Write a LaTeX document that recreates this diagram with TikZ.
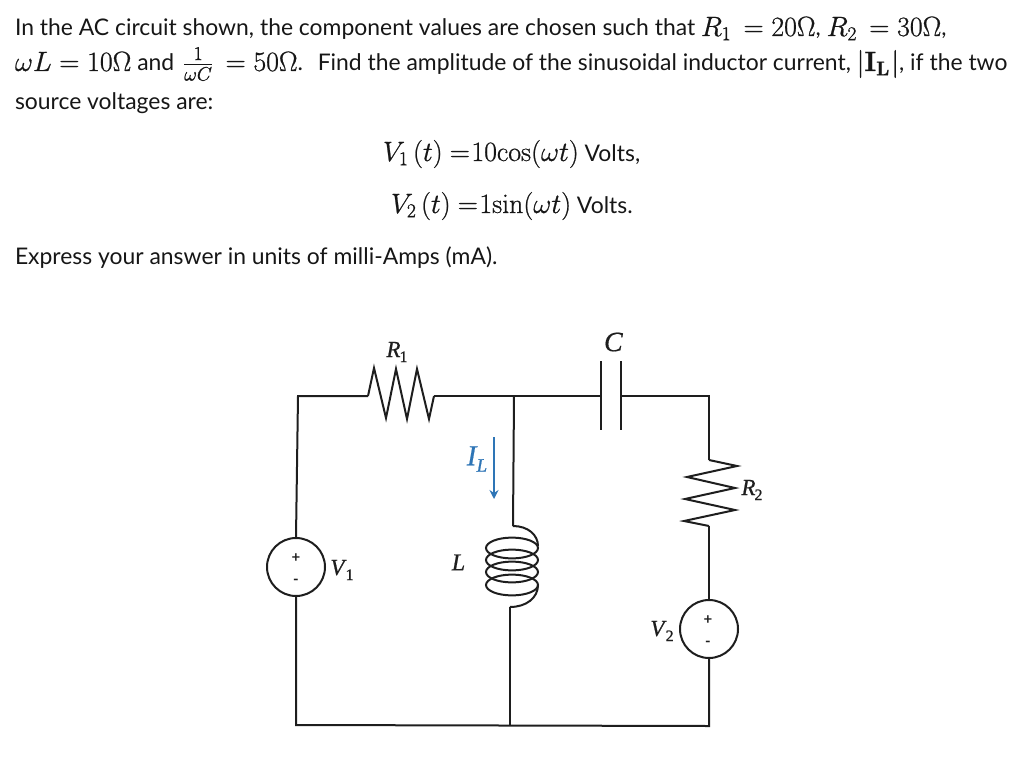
\documentclass[tikz,border=0pt]{standalone}
\usepackage{fix-cm}
\usepackage[no-math]{fontspec}
\setmainfont{Lato}
\newfontfamily\lblfont{Liberation Serif}
\usetikzlibrary{arrows.meta}
\definecolor{ilblue}{RGB}{46,117,182}
\definecolor{wirecol}{RGB}{30,30,30}
\definecolor{txt}{RGB}{22,22,22}
% maths set at KaTeX's larger size, with a hair of outline for its weight
\newcommand{\MM}[1]{{\fontsize{27.9}{30}\selectfont\special{pdf:code 2 Tr 0.22 w}\(#1\)\special{pdf:code 0 Tr}}}
% label: size, italic letter, subscript size, subscript
\newcommand{\LB}[4]{{\lblfont\special{pdf:code 2 Tr 0.15 w}\fontsize{#1}{24}\selectfont\textit{#2}\kern-1pt\raisebox{-0.22em}{\fontsize{#3}{16}\selectfont #4}\special{pdf:code 0 Tr}}}
\tikzset{
  para/.style={anchor=base west,inner sep=0pt,outer sep=0pt,text=txt,font=\fontsize{22.9}{26}\selectfont},
  lbl/.style={inner sep=0pt,text=wirecol},
  wire/.style={draw=wirecol,line width=2pt,line join=miter},
  src/.style={circle,draw=wirecol,line width=2pt,minimum size=58pt,inner sep=0pt},
  sgn/.style={inner sep=0pt,text=wirecol,font=\fontsize{15}{16}\bfseries\selectfont}
}
\begin{document}
\begin{tikzpicture}[x=1pt,y=-1pt]
\useasboundingbox (0,0) rectangle (1024,762);
% text
\node[para] (t1) at (15,36) {In the AC circuit shown, the component values are chosen such that \MM{R_1\,=20\Omega}, \MM{R_2\,=30\Omega},};
\node[para] (t2) at (15,71) {\MM{\omega L=10\Omega} and\hspace{3pt} \MM{\frac{1}{\omega C}\mskip3mu=50\Omega}.\ \ \hspace{3pt}Find the amplitude of the sinusoidal inductor current, \MM{|\mathbf{I_L}\mskip1mu|}, if the two};
\node[para] (t3) at (15,110) {source voltages are:};
\node[para] (e1) at (383,161) {\MM{V_1\,(t)\ {=}\mskip1mu 10\mathrm{cos}(\omega t)} Volts,};
\node[para] (e2) at (391,213) {\MM{V_2\,(t)\ {=}\mskip1mu 1\mathrm{sin}(\omega t)} Volts.};
\node[para] (t4) at (15,264) {Express your answer in units of milli-Amps (mA).};
% named points
\coordinate (tl) at (298,396);
\coordinate (r1a) at (368,396);
\coordinate (r1b) at (434,396);
\coordinate (j) at (514,396);
\coordinate (cl) at (601,396);
\coordinate (cr) at (621,396);
\coordinate (tr) at (709,396);
\coordinate (r2a) at (709,460);
\coordinate (r2b) at (709,526);
\coordinate (la) at (513,526);
\coordinate (lb) at (510,607);
\coordinate (jb) at (510,725);
\coordinate (bl) at (296,725);
\coordinate (br) at (709,726);
\node[src] (v1) at (296,567) {};
\node[src] (v2) at (709,629) {};
% wires
\draw[wire] (v1.north) -- (tl) -- (r1a);
\draw[wire] (r1a) -- (374,368) -- (386,418) -- (396,369) -- (407,419) -- (417,369) -- (429,419) -- (r1b);
\draw[wire] (r1b) -- (j) -- (cl);
\draw[wire] (601,361) -- (601,430);
\draw[wire] (621,361) -- (621,430);
\draw[wire] (cr) -- (tr) -- (r2a);
\draw[wire] (r2a) -- (737,466) -- (687,477) -- (735,488) -- (685,499) -- (735,510) -- (684,521) -- (r2b);
\draw[wire] (r2b) -- (v2.north);
\draw[wire] (v2.south) -- (br) -- (bl) -- (v1.south);
\draw[wire] (j) -- (la);
\draw[wire] (lb) -- (jb);
% inductor
\draw[wire] (la) .. controls (528,526) and (538,535) .. (538,546);
\draw[wire] (538,585) .. controls (538,598) and (526,607) .. (lb);
\foreach \yy in {548,560,572,585}{\draw[wire] (512,\yy) ellipse [x radius=26,y radius=10.4];}
% current arrow
\coordinate (ia) at (494,437);
\coordinate (ib) at (494,499);
\draw[draw=ilblue,line width=2pt,-{Stealth[length=9pt,width=9pt]}] (ia) -- (ib);
% labels
\node[lbl,text=ilblue] (il) at (477,459) {\LB{29}{I}{19}{\textit{L}}};
\node[lbl] (ll) at (458,565) {\LB{24}{L}{15}{}};
\node[lbl] (lv1) at (342,570) {\LB{23}{V}{16}{1}};
\node[lbl] (lr1) at (397,352) {\LB{23}{R}{16}{1}};
\node[lbl] (lc) at (613,345) {\LB{28}{C}{15}{}};
\node[lbl] (lr2) at (752,490) {\LB{23}{R}{16}{2}};
\node[lbl] (lv2) at (662,631) {\LB{23}{V}{16}{2}};
\node[sgn] (p1) at (296,558) {+};
\node[sgn] (m1) at (296,582) {-};
\node[sgn] (p2) at (708,620) {+};
\node[sgn] (m2) at (708,644) {-};
\end{tikzpicture}
\end{document}
